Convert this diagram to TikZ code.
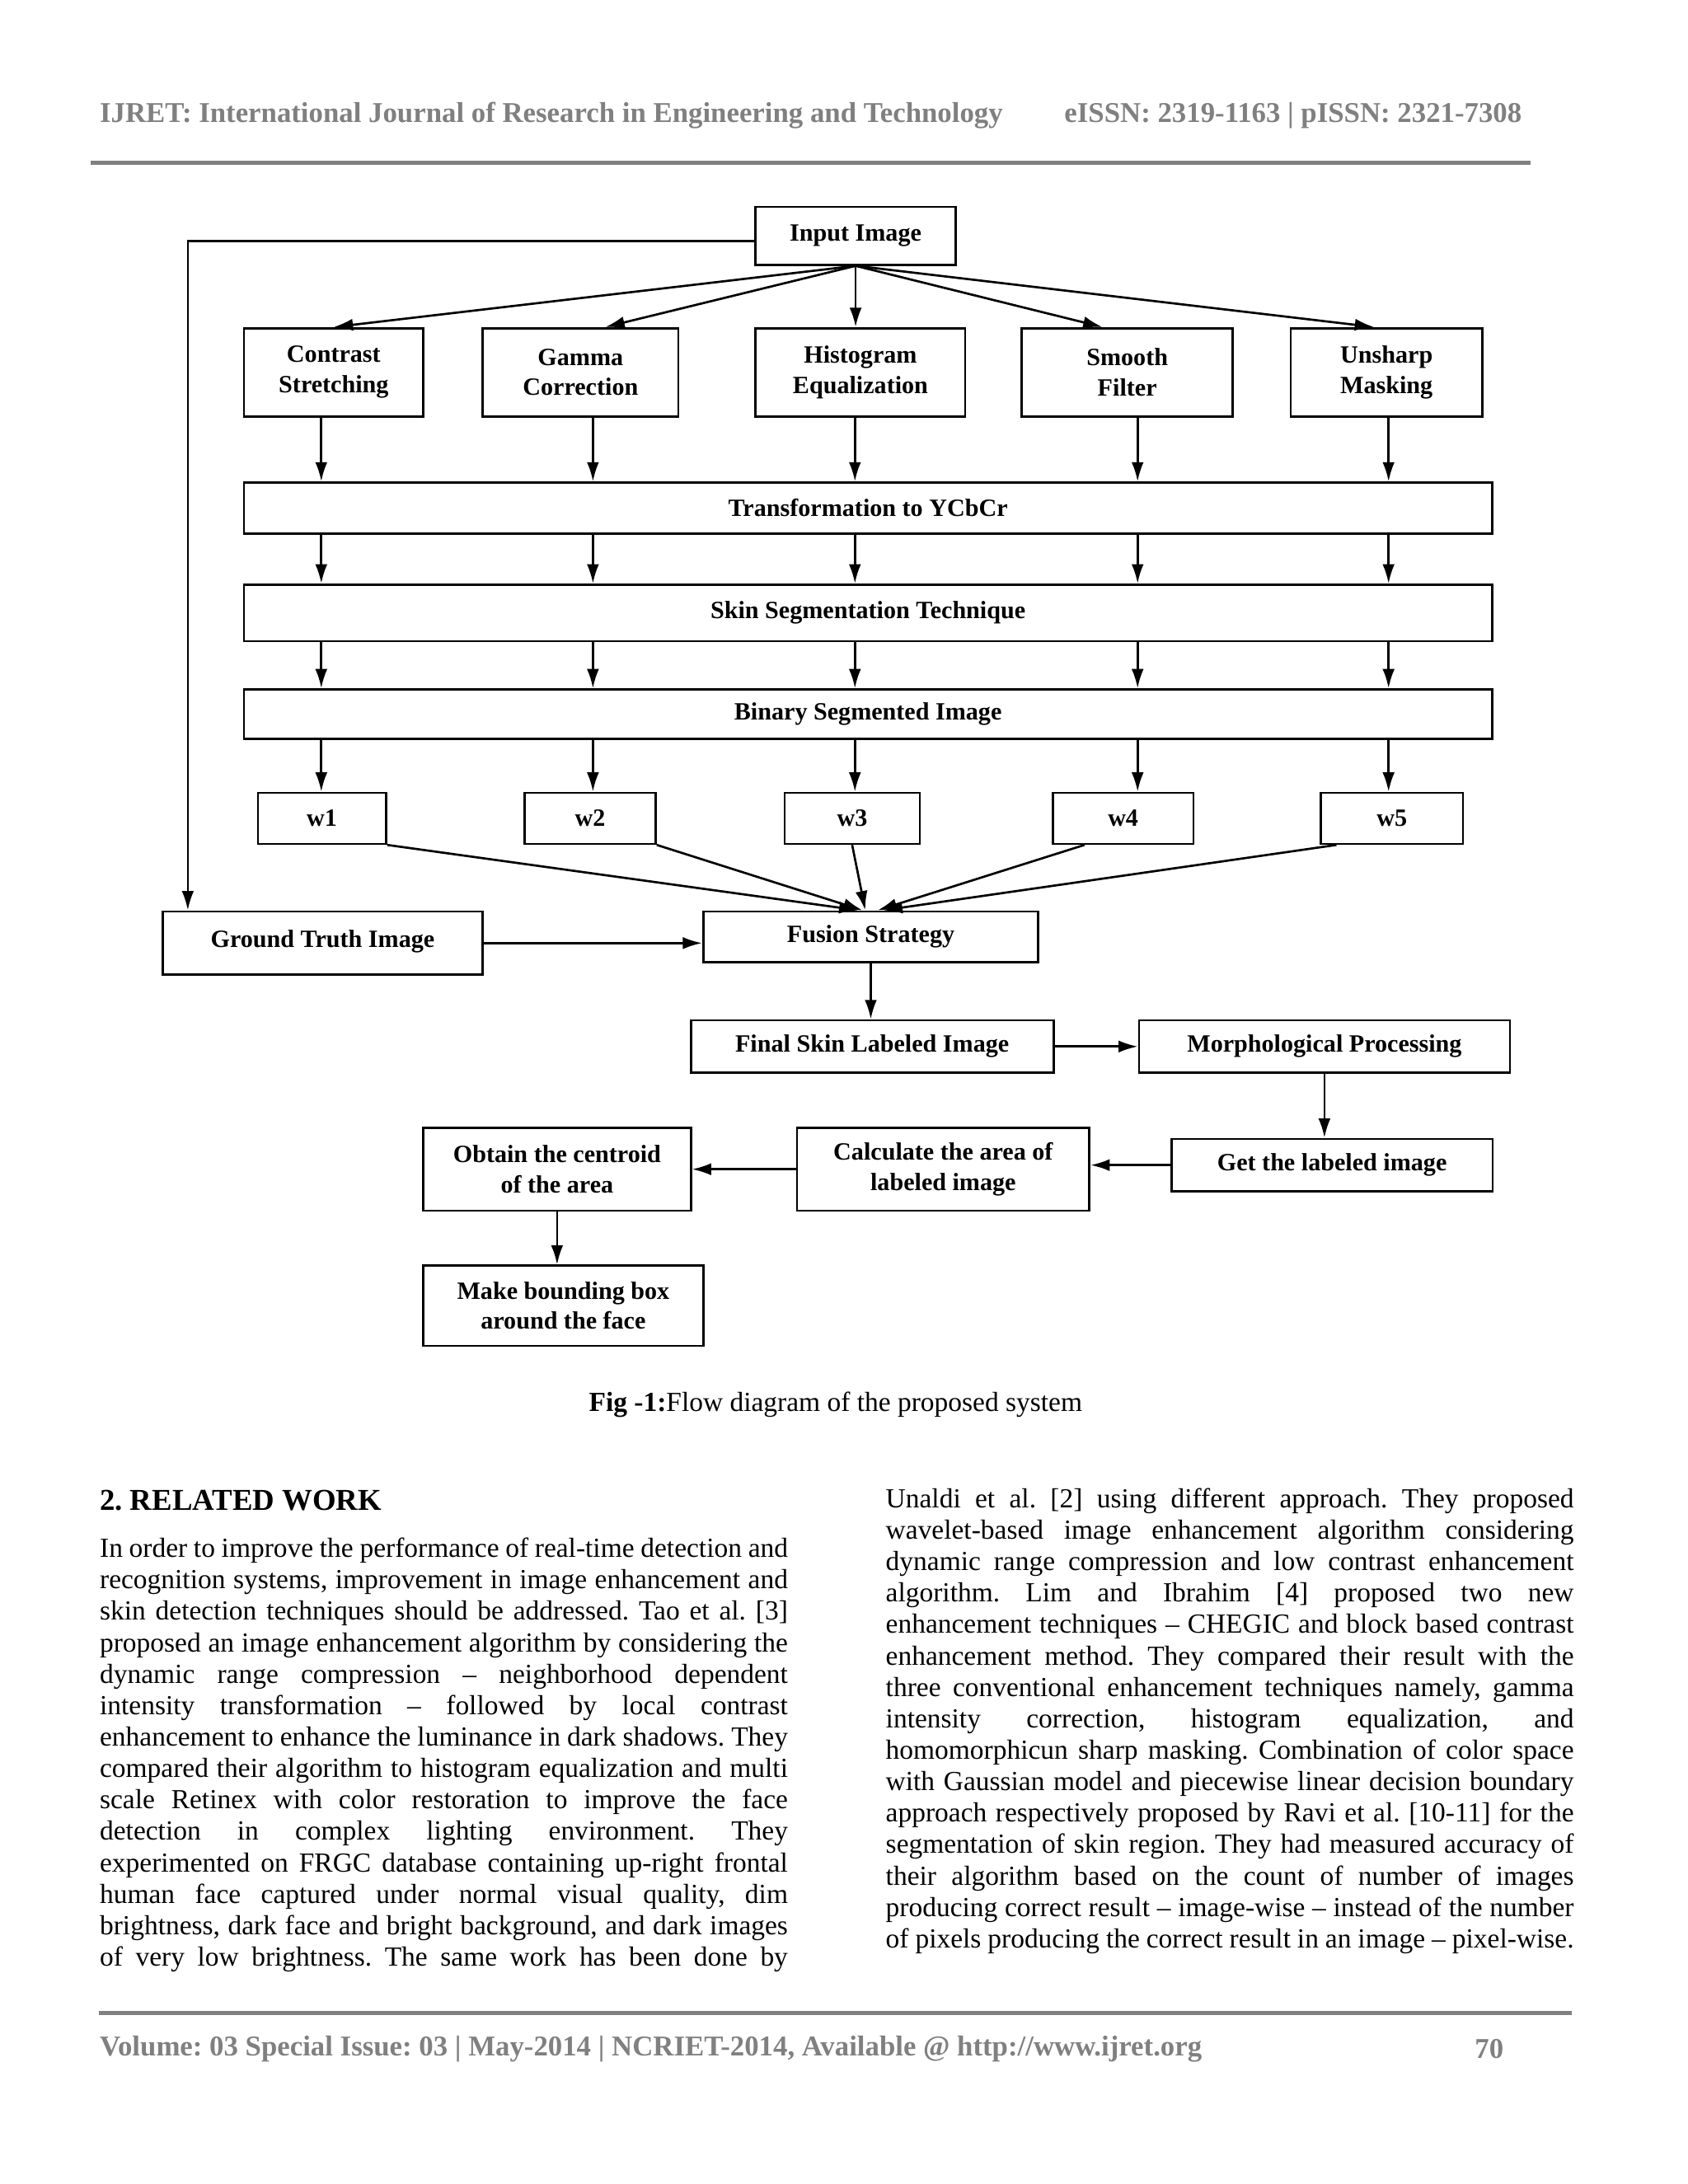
\documentclass[tikz,border=0pt]{standalone}
\usepackage{fontspec}
\setmainfont{Liberation Serif}
\usetikzlibrary{arrows.meta}
\definecolor{hdrgray}{gray}{0.5}
\frenchspacing
\newcommand{\colpar}[1]{\parbox[t]{249.5pt}{\fontsize{10}{11.4}\selectfont
    \hyphenpenalty=10000\tolerance=10000\parfillskip=0pt #1}}

\begin{document}
\begin{tikzpicture}[x=0.5pt, y=-0.5pt,
    pbox/.style={draw, line width=0.8pt, align=center, inner sep=1pt,
      font=\bfseries\fontsize{9}{11}\selectfont},
    arr/.style={-{Latex[length=7pt,width=4.4pt]}, line width=0.8pt},
    hdr/.style={font=\bfseries\fontsize{10.4}{12}\selectfont, text=hdrgray, inner sep=0pt}]

      \useasboundingbox (0,0) rectangle (1224,1584);

      % page head and foot
      \node[hdr, anchor=west] (head) at (72,84) {IJRET: International Journal of Research in Engineering and Technology};
      \node[hdr, anchor=east] (issn) at (1104,84) {eISSN: 2319-1163 | pISSN: 2321-7308};
      \draw[hdrgray, line width=1.5pt] (66,118) -- (1110,118);
      \draw[hdrgray, line width=1.5pt] (72,1460) -- (1140,1460);
      \node[hdr, anchor=west] (foot) at (72,1486) {Volume: 03 Special Issue: 03 | May-2014 | NCRIET-2014, Available @ http://www.ijret.org};
      \node[hdr] (page) at (1080,1486) {70};

      % flow diagram
      \node[pbox, minimum width=72.5pt, minimum height=21pt] (inp) at (620.5,171) {Input Image};

      \node[pbox, minimum width=65pt, minimum height=32pt] (cs) at (242,270) {Contrast\\Stretching};
      \node[pbox, minimum width=71pt, minimum height=32pt] (gc) at (421,270) {Gamma\\Correction};
      \node[pbox, minimum width=76pt, minimum height=32pt] (he) at (624,270) {Histogram\\Equalization};
      \node[pbox, minimum width=76.5pt, minimum height=32pt] (sf) at (817.5,270) {Smooth\\Filter};
      \node[pbox, minimum width=69.5pt, minimum height=32pt] (um) at (1005.5,270) {Unsharp\\Masking};

      \node[pbox, minimum width=452.5pt, minimum height=18.5pt] (ycc) at (629.5,368.5) {Transformation to YCbCr};
      \node[pbox, minimum width=452.5pt, minimum height=20.5pt] (skin) at (629.5,444.5) {Skin Segmentation Technique};
      \node[pbox, minimum width=452.5pt, minimum height=18pt] (bin) at (629.5,518) {Binary Segmented Image};

      \node[pbox, minimum width=46.5pt, minimum height=18.5pt] (w1) at (233.5,593.5) {w1};
      \node[pbox, minimum width=47.5pt, minimum height=18.5pt] (w2) at (428,593.5) {w2};
      \node[pbox, minimum width=49pt, minimum height=18.5pt] (w3) at (618,593.5) {w3};
      \node[pbox, minimum width=51pt, minimum height=18.5pt] (w4) at (814.5,593.5) {w4};
      \node[pbox, minimum width=51.5pt, minimum height=18.5pt] (w5) at (1009.5,593.5) {w5};

      \node[pbox, minimum width=116pt, minimum height=23pt] (gt) at (234,684) {\raisebox{3pt}{Ground Truth Image}};
      \node[pbox, minimum width=121.5pt, minimum height=18.5pt] (fus) at (631.5,679.5) {Fusion Strategy};

      \node[pbox, minimum width=131.5pt, minimum height=19pt] (fin) at (632.5,759) {Final Skin Labeled Image};
      \node[pbox, minimum width=134.5pt, minimum height=19pt] (mor) at (960.5,759) {Morphological Processing};
      \node[pbox, minimum width=116.5pt, minimum height=19pt] (get) at (966,845) {Get the labeled image};
      \node[pbox, minimum width=106pt, minimum height=30pt] (calc) at (684,848) {Calculate the area of\\labeled image};
      \node[pbox, minimum width=97pt, minimum height=30pt] (obt) at (404,848) {Obtain the centroid\\of the area};
      \node[pbox, minimum width=101.5pt, minimum height=29pt] (mk) at (408.5,947) {Make bounding box\\around the face};

      \coordinate (c1) at (233,0);
      \coordinate (c2) at (430,0);
      \coordinate (c3) at (620,0);
      \coordinate (c4) at (825,0);
      \coordinate (c5) at (1007,0);

      \draw[arr] (inp.south) -- (cs.north);
      \draw[arr] (inp.south) -- ([xshift=9pt]gc.north);
      \draw[arr] (inp.south) -- (inp.south |- he.north);
      \draw[arr] (inp.south) -- ([xshift=-9pt]sf.north);
      \draw[arr] (inp.south) -- ([xshift=-4.5pt]um.north);
      \draw[arr] ([yshift=-2pt]inp.west) -| ([xshift=9.5pt]gt.north west);

      \foreach \k/\src in {1/cs,2/gc,3/he,4/sf,5/um}{
        \draw[arr] (\src.south -| c\k) -- (ycc.north -| c\k);
        \draw[arr] (ycc.south -| c\k) -- (skin.north -| c\k);
        \draw[arr] (skin.south -| c\k) -- (bin.north -| c\k);
        \draw[arr] (bin.south -| c\k) -- (w\k.north -| c\k);
      }

      \draw[arr] (w1.south east) -- ([xshift=-4.5pt]fus.north);
      \draw[arr] (w2.south east) -- ([xshift=-3pt]fus.north);
      \draw[arr] (w3.south) -- ([xshift=-2pt]fus.north);
      \draw[arr] ([xshift=-14pt]w4.south) -- ([xshift=2.5pt]fus.north);
      \draw[arr] ([xshift=6pt]w5.south west) -- ([xshift=4.5pt]fus.north);
      \draw[arr] (gt.east) -- (fus.west |- gt.east);

      \draw[arr] (fus.south) -- (fus.south |- fin.north);
      \draw[arr] (fin.east) -- (mor.west);
      \draw[arr] (mor.south) -- (mor.south |- get.north);
      \draw[arr] (get.west) -- (calc.east |- get.west);
      \draw[arr] (calc.west) -- (obt.east |- calc.west);
      \draw[arr] (obt.south) -- (obt.south |- mk.north);

      \node (cap) at (606,1019) {\fontsize{10}{12}\selectfont\textbf{Fig -1:}Flow diagram of the proposed system};

      % text below the figure
      \node[anchor=west, inner sep=0pt, font=\bfseries\fontsize{11}{13}\selectfont] (sec) at (72,1088) {2. RELATED WORK};

      \node[anchor=north west, inner sep=0pt] (colL) at (72,1115) {\colpar{%
        In order to improve the performance of real-time detection and\linebreak
        recognition systems, improvement in image enhancement and\linebreak
        skin detection techniques should be addressed. Tao et al. [3]\linebreak
        proposed an image enhancement algorithm by considering the\linebreak
        dynamic range compression – neighborhood dependent\linebreak
        intensity transformation – followed by local contrast\linebreak
        enhancement to enhance the luminance in dark shadows. They\linebreak
        compared their algorithm to histogram equalization and multi\linebreak
        scale Retinex with color restoration to improve the face\linebreak
        detection in complex lighting environment. They\linebreak
        experimented on FRGC database containing up-right frontal\linebreak
        human face captured under normal visual quality, dim\linebreak
        brightness, dark face and bright background, and dark images\linebreak
        of very low brightness. The same work has been done by}};

      \node[anchor=north west, inner sep=0pt] (colR) at (642,1079) {\colpar{%
        Unaldi et al. [2] using different approach. They proposed\linebreak
        wavelet-based image enhancement algorithm considering\linebreak
        dynamic range compression and low contrast enhancement\linebreak
        algorithm. Lim and Ibrahim [4] proposed two new\linebreak
        enhancement techniques – CHEGIC and block based contrast\linebreak
        enhancement method. They compared their result with the\linebreak
        three conventional enhancement techniques namely, gamma\linebreak
        intensity correction, histogram equalization, and\linebreak
        homomorphicun sharp masking. Combination of color space\linebreak
        with Gaussian model and piecewise linear decision boundary\linebreak
        approach respectively proposed by Ravi et al. [10-11] for the\linebreak
        segmentation of skin region. They had measured accuracy of\linebreak
        their algorithm based on the count of number of images\linebreak
        producing correct result – image-wise – instead of the number\linebreak
        of pixels producing the correct result in an image – pixel-wise.}};
    \end{tikzpicture}
\end{document}
